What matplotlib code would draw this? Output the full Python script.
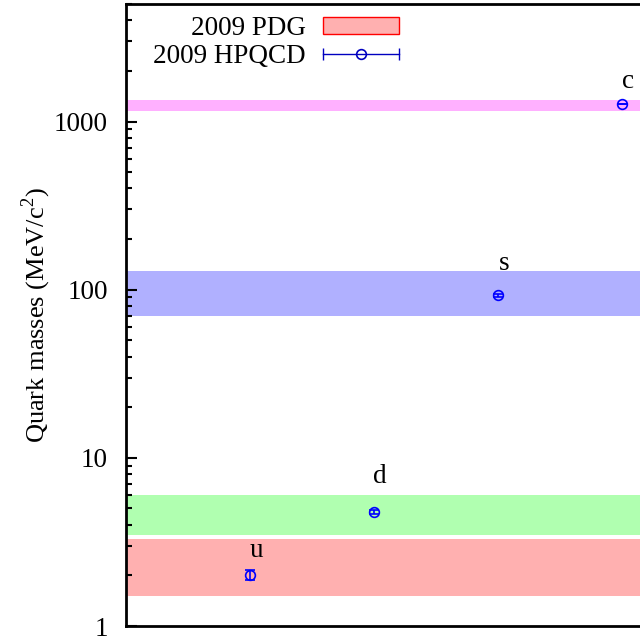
import matplotlib
matplotlib.use("Agg")
import matplotlib.pyplot as plt
from matplotlib.patches import Patch
from matplotlib.lines import Line2D
from matplotlib.legend_handler import HandlerLine2D, HandlerTuple
from matplotlib.ticker import FixedLocator, NullFormatter, FuncFormatter
import numpy as np

plt.rcParams['font.family'] = ['Liberation Serif', 'DejaVu Serif']
plt.rcParams['mathtext.fontset'] = 'custom'
plt.rcParams['mathtext.rm'] = 'Liberation Serif'

quarks = ["u", "d", "s", "c"]
pdg_low = [1.5, 3.5, 70, 1160]
pdg_high = [3.3, 6.0, 130, 1340]
band_colors = ["#ffb0b0", "#b0ffb0", "#b0b0ff", "#ffb0ff"]
hpqcd_val = [2.01, 4.77, 92.4, 1273]
hpqcd_err = [0.14, 0.15, 1.5, 6]
label_y = [2.57, 7.1, 131, 1590]

FS = 19.5

fig = plt.figure(figsize=(6.4, 6.4), dpi=100)
ax = fig.add_axes([126/640, 1-626/640, 620/640, 622/640])
ax.set_yscale('log')
ax.set_ylim(1, 5000)
ax.set_xlim(0, 5)

for lo, hi, col in zip(pdg_low, pdg_high, band_colors):
    ax.axhspan(lo, hi, color=col, lw=0, zorder=1)

xs = np.arange(1, len(quarks) + 1)
ax.errorbar(xs, hpqcd_val, yerr=hpqcd_err, fmt='o', mfc='none', mec='#0000ff',
            ecolor='#0000ff', ms=7, mew=1.2, elinewidth=1.2, capsize=3.5, capthick=1.2, zorder=3)
for x, q, ly in zip(xs, quarks, label_y):
    ax.text(x + 0.05, ly, q, ha='center', va='baseline', fontsize=FS)

ax.set_xticks([])
ax.yaxis.set_major_locator(FixedLocator([1, 10, 100, 1000]))
ax.yaxis.set_major_formatter(FuncFormatter(lambda v, p: f"{v:g}"))
minors = [m * 10**e for e in range(0, 4) for m in range(2, 10)]
ax.yaxis.set_minor_locator(FixedLocator(minors))
ax.yaxis.set_minor_formatter(NullFormatter())
ax.tick_params(axis='y', which='major', direction='in', length=8, width=1.5, labelsize=FS, pad=13)
ax.tick_params(axis='y', which='minor', direction='in', length=4, width=1.5)
for s in ax.spines.values():
    s.set_linewidth(2)
ax.set_ylabel("Quark masses (MeV/c$^2$)", fontsize=19, labelpad=1)

# Legend
pdg_handle = Patch(facecolor="#ffb0b0", edgecolor="#ff0000", lw=1)
caps = Line2D([], [], color='#0000c0', marker='|', ms=8, mew=1.0, lw=1.0)
circ = Line2D([], [], color='#0000c0', marker='o', mfc='none', ms=7, mew=1.2, lw=0)
leg = ax.legend([pdg_handle, (caps, circ)], ["2009 PDG", "2009 HPQCD"],
                handler_map={caps: HandlerLine2D(numpoints=2, marker_pad=0),
                             circ: HandlerLine2D(numpoints=1),
                             tuple: HandlerTuple(ndivide=1, pad=0)},
                loc='upper right', bbox_to_anchor=(399/640, 1 - 16/640), bbox_transform=fig.transFigure,
                frameon=False, markerfirst=False, fontsize=FS, handlelength=2.8, handleheight=0.57,
                handletextpad=0.65, labelspacing=0.1, borderaxespad=0, borderpad=0)

fig.savefig("out.png", dpi=100)
